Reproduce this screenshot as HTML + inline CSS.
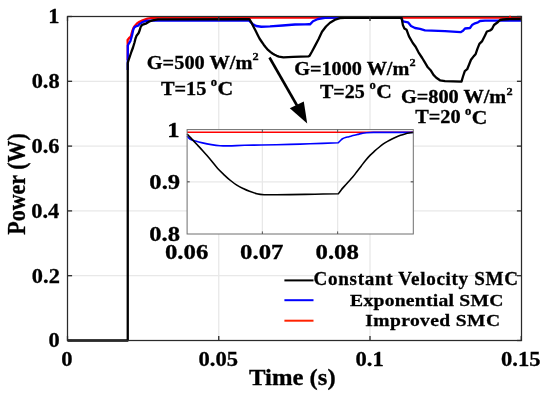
<!DOCTYPE html>
<html><head><meta charset="utf-8"><style>html,body{margin:0;padding:0;background:#fff;overflow:hidden}svg{display:block}</style></head>
<body><svg width="550" height="400" viewBox="0 0 550 400">
<rect width="550" height="400" fill="#fff"/>
<line x1="218.75" y1="16.5" x2="218.75" y2="340.5" stroke="#e8e8e8" stroke-width="1.3"/><line x1="370.00" y1="16.5" x2="370.00" y2="340.5" stroke="#e8e8e8" stroke-width="1.3"/><line x1="67.5" y1="275.70" x2="521.25" y2="275.70" stroke="#e8e8e8" stroke-width="1.3"/><line x1="67.5" y1="210.90" x2="521.25" y2="210.90" stroke="#e8e8e8" stroke-width="1.3"/><line x1="67.5" y1="146.10" x2="521.25" y2="146.10" stroke="#e8e8e8" stroke-width="1.3"/><line x1="67.5" y1="81.30" x2="521.25" y2="81.30" stroke="#e8e8e8" stroke-width="1.3"/><polyline points="127.75,60.00 127.75,46.00 127.60,40.00 129.00,38.20 130.80,36.50 132.20,31.50 133.50,28.00 134.80,26.00 137.00,23.50 139.50,21.80 142.70,20.30 147.60,18.70 152.60,17.90 160.00,17.60 521.25,17.60" fill="none" stroke="#ff0000" stroke-width="2.3" stroke-linejoin="round" stroke-linecap="butt"/><polyline points="127.75,70.00 127.75,63.00 127.80,45.50 129.00,43.30 130.50,40.80 132.00,35.50 133.30,29.50 134.50,27.20 135.80,26.40 138.00,25.70 139.70,23.90 142.70,22.00 146.00,20.90 150.00,20.60 249.00,20.60 252.50,23.90 256.25,26.00 261.25,26.75 270.00,26.40 282.50,25.50 295.00,24.50 305.00,24.30 309.00,24.10 310.00,24.40 313.00,21.25 318.00,19.00 325.00,17.90 340.00,17.70 401.00,17.80 403.00,21.40 408.00,22.30 411.00,26.00 415.00,28.00 420.00,28.90 425.00,30.40 445.00,31.10 460.60,32.20 463.00,30.80 465.00,28.50 470.00,28.00 472.00,25.10 475.00,23.30 478.00,22.30 480.00,21.00 485.00,20.60 521.00,20.60" fill="none" stroke="#0000ff" stroke-width="2.3" stroke-linejoin="round" stroke-linecap="butt"/><polyline points="67.50,340.50 127.75,340.50 127.75,63.00 128.30,61.00 130.00,56.00 131.50,51.50 133.00,47.50 134.50,42.50 135.50,38.50 136.50,35.80 138.50,33.30 139.70,30.30 140.70,26.80 142.00,25.00 144.20,24.10 146.50,23.30 149.30,21.50 152.60,20.30 158.00,19.30 249.40,19.20 251.00,21.80 253.00,25.70 255.50,30.60 257.70,35.00 259.50,38.50 261.50,41.50 263.70,44.70 265.90,47.50 268.00,49.90 270.30,51.90 272.50,53.50 274.60,54.80 276.80,55.80 279.00,56.60 283.40,57.30 293.20,56.90 308.40,56.40 309.50,55.80 312.00,51.50 315.00,45.90 318.50,39.25 322.00,31.75 326.00,26.50 330.00,22.75 335.00,19.75 340.00,18.10 345.00,17.90 401.60,17.90 402.90,25.10 404.40,28.50 406.60,29.80 409.00,36.40 412.80,43.00 415.60,46.70 418.50,52.30 422.20,58.00 425.00,62.70 427.80,67.30 430.60,70.20 433.50,74.90 436.30,77.70 440.00,80.30 445.00,81.10 461.50,81.60 463.00,76.50 464.80,71.10 467.20,69.20 469.10,64.50 471.00,59.80 473.80,56.10 475.60,54.20 477.50,48.60 479.40,43.90 482.20,41.10 485.00,35.50 486.90,31.50 490.00,30.50 492.00,29.00 494.00,25.00 496.00,23.50 498.00,22.00 500.00,20.00 503.00,19.50 510.00,19.00 521.00,19.00" fill="none" stroke="#000000" stroke-width="2.3" stroke-linejoin="round" stroke-linecap="butt"/><rect x="67.5" y="16.5" width="454.0" height="324.0" fill="none" stroke="#2a2a2a" stroke-width="1.25"/><line x1="67.50" y1="340.5" x2="67.50" y2="335.9" stroke="#2a2a2a" stroke-width="1.3"/><line x1="67.50" y1="16.5" x2="67.50" y2="21.1" stroke="#2a2a2a" stroke-width="1.3"/><line x1="218.75" y1="340.5" x2="218.75" y2="335.9" stroke="#2a2a2a" stroke-width="1.3"/><line x1="218.75" y1="16.5" x2="218.75" y2="21.1" stroke="#2a2a2a" stroke-width="1.3"/><line x1="370.00" y1="340.5" x2="370.00" y2="335.9" stroke="#2a2a2a" stroke-width="1.3"/><line x1="370.00" y1="16.5" x2="370.00" y2="21.1" stroke="#2a2a2a" stroke-width="1.3"/><line x1="521.25" y1="340.5" x2="521.25" y2="335.9" stroke="#2a2a2a" stroke-width="1.3"/><line x1="521.25" y1="16.5" x2="521.25" y2="21.1" stroke="#2a2a2a" stroke-width="1.3"/><line x1="67.5" y1="340.50" x2="72.1" y2="340.50" stroke="#2a2a2a" stroke-width="1.3"/><line x1="521.5" y1="340.50" x2="516.9" y2="340.50" stroke="#2a2a2a" stroke-width="1.3"/><line x1="67.5" y1="275.70" x2="72.1" y2="275.70" stroke="#2a2a2a" stroke-width="1.3"/><line x1="521.5" y1="275.70" x2="516.9" y2="275.70" stroke="#2a2a2a" stroke-width="1.3"/><line x1="67.5" y1="210.90" x2="72.1" y2="210.90" stroke="#2a2a2a" stroke-width="1.3"/><line x1="521.5" y1="210.90" x2="516.9" y2="210.90" stroke="#2a2a2a" stroke-width="1.3"/><line x1="67.5" y1="146.10" x2="72.1" y2="146.10" stroke="#2a2a2a" stroke-width="1.3"/><line x1="521.5" y1="146.10" x2="516.9" y2="146.10" stroke="#2a2a2a" stroke-width="1.3"/><line x1="67.5" y1="81.30" x2="72.1" y2="81.30" stroke="#2a2a2a" stroke-width="1.3"/><line x1="521.5" y1="81.30" x2="516.9" y2="81.30" stroke="#2a2a2a" stroke-width="1.3"/><line x1="67.5" y1="16.50" x2="72.1" y2="16.50" stroke="#2a2a2a" stroke-width="1.3"/><line x1="521.5" y1="16.50" x2="516.9" y2="16.50" stroke="#2a2a2a" stroke-width="1.3"/><path d="M508.6 17.8 L510 15.0 L511.4 17.8 Z" fill="#ff0000"/><rect x="187.1" y="129.6" width="226.20000000000002" height="104.4" fill="#fff"/><line x1="262.37" y1="129.6" x2="262.37" y2="234.0" stroke="#e8e8e8" stroke-width="1.3"/><line x1="337.64" y1="129.6" x2="337.64" y2="234.0" stroke="#e8e8e8" stroke-width="1.3"/><line x1="187.1" y1="181.80" x2="413.3" y2="181.80" stroke="#e8e8e8" stroke-width="1.3"/><polyline points="187.10,132.20 413.30,132.20" fill="none" stroke="#ff0000" stroke-width="1.5" stroke-linejoin="round" stroke-linecap="butt"/><path d="M187.10,136.00 C187.63,136.53 188.90,138.35 190.30,139.20 C191.70,140.05 193.47,140.48 195.50,141.10 C197.53,141.72 199.87,142.32 202.50,142.90 C205.13,143.48 208.38,144.13 211.30,144.60 C214.22,145.07 217.08,145.48 220.00,145.70 C222.92,145.92 224.72,145.97 228.80,145.90 C232.88,145.83 239.07,145.45 244.50,145.30 C249.93,145.15 253.82,145.15 261.40,145.00 C268.98,144.85 281.90,144.60 290.00,144.40 C298.10,144.20 301.95,144.08 310.00,143.80 C318.05,143.52 333.58,142.88 338.30,142.70 L338.30,142.70 C338.67,142.33 339.80,141.17 340.50,140.50 C341.20,139.83 341.67,139.20 342.50,138.70 C343.33,138.20 344.42,137.83 345.50,137.50 C346.58,137.17 347.75,137.02 349.00,136.70 C350.25,136.38 351.53,135.98 353.00,135.60 C354.47,135.22 356.30,134.77 357.80,134.40 C359.30,134.03 360.55,133.68 362.00,133.40 C363.45,133.12 364.58,132.87 366.50,132.70 C368.42,132.53 369.58,132.45 373.50,132.40 C377.42,132.35 383.37,132.40 390.00,132.40 C396.63,132.40 409.42,132.40 413.30,132.40" fill="none" stroke="#0000ff" stroke-width="1.6" stroke-linejoin="round"/><path d="M187.10,134.00 C187.67,134.60 189.38,136.42 190.50,137.60 C191.62,138.78 192.55,139.77 193.80,141.10 C195.05,142.43 196.55,144.03 198.00,145.60 C199.45,147.17 201.00,148.83 202.50,150.50 C204.00,152.17 205.52,153.88 207.00,155.60 C208.48,157.32 209.62,158.65 211.40,160.80 C213.18,162.95 215.58,166.17 217.70,168.50 C219.82,170.83 221.97,172.80 224.10,174.80 C226.23,176.80 228.38,178.78 230.50,180.50 C232.62,182.22 234.68,183.77 236.80,185.10 C238.92,186.43 241.08,187.47 243.20,188.50 C245.32,189.53 247.23,190.43 249.50,191.30 C251.77,192.17 254.37,193.13 256.80,193.70 C259.23,194.27 261.07,194.52 264.10,194.70 C267.13,194.88 270.68,194.82 275.00,194.80 C279.32,194.78 283.33,194.70 290.00,194.60 C296.67,194.50 306.95,194.33 315.00,194.20 C323.05,194.07 334.42,193.87 338.30,193.80 L338.30,193.80 C338.75,193.20 340.08,191.35 341.00,190.20 C341.92,189.05 342.63,188.23 343.80,186.90 C344.97,185.57 346.55,183.80 348.00,182.20 C349.45,180.60 351.00,179.08 352.50,177.30 C354.00,175.52 355.53,173.40 357.00,171.50 C358.47,169.60 359.88,167.73 361.30,165.90 C362.72,164.07 364.05,162.25 365.50,160.50 C366.95,158.75 368.50,156.95 370.00,155.40 C371.50,153.85 373.03,152.52 374.50,151.20 C375.97,149.88 377.38,148.67 378.80,147.50 C380.22,146.33 381.55,145.22 383.00,144.20 C384.45,143.18 386.00,142.27 387.50,141.40 C389.00,140.53 390.53,139.73 392.00,139.00 C393.47,138.27 394.88,137.62 396.30,137.00 C397.72,136.38 399.05,135.82 400.50,135.30 C401.95,134.78 403.58,134.28 405.00,133.90 C406.42,133.52 407.62,133.23 409.00,133.00 C410.38,132.77 412.58,132.58 413.30,132.50" fill="none" stroke="#000000" stroke-width="1.6" stroke-linejoin="round"/><rect x="187.1" y="129.6" width="226.20000000000002" height="104.4" fill="none" stroke="#6e6e6e" stroke-width="1"/><line x1="262.37" y1="234.0" x2="262.37" y2="231.4" stroke="#555" stroke-width="1"/><line x1="262.37" y1="129.6" x2="262.37" y2="132.2" stroke="#555" stroke-width="1"/><line x1="337.64" y1="234.0" x2="337.64" y2="231.4" stroke="#555" stroke-width="1"/><line x1="337.64" y1="129.6" x2="337.64" y2="132.2" stroke="#555" stroke-width="1"/><line x1="187.1" y1="181.80" x2="189.7" y2="181.80" stroke="#555" stroke-width="1.2"/><line x1="413.3" y1="181.80" x2="410.7" y2="181.80" stroke="#555" stroke-width="1.2"/><line x1="269.5" y1="57.5" x2="297" y2="105.5" stroke="#000" stroke-width="2.6"/><polygon points="307.2,123.5 289.8,108.3 303.8,101.5" fill="#000"/><line x1="284.4" y1="280.4" x2="313.5" y2="280.4" stroke="#000" stroke-width="2"/><line x1="284.4" y1="300.2" x2="313.5" y2="300.2" stroke="#0000ff" stroke-width="2"/><line x1="284.4" y1="320.7" x2="313.5" y2="320.7" stroke="#ff2200" stroke-width="2"/>
<g font-family="Liberation Serif, 'Times New Roman', serif" font-weight="bold" stroke="#000" stroke-width="0.3"><text transform="translate(48.55 347.45) scale(1.0874 1)" font-size="20.60" fill="#000">0</text><text transform="translate(31.86 282.65) scale(1.0874 1)" font-size="20.60" fill="#000">0.2</text><text transform="translate(31.32 217.85) scale(1.0874 1)" font-size="20.60" fill="#000">0.4</text><text transform="translate(31.56 153.05) scale(1.0874 1)" font-size="20.60" fill="#000">0.6</text><text transform="translate(31.64 88.25) scale(1.0874 1)" font-size="20.60" fill="#000">0.8</text><text transform="translate(48.16 23.45) scale(1.0874 1)" font-size="20.60" fill="#000">1</text><text transform="translate(61.35 365.90) scale(1.1078 1)" font-size="20.40" fill="#000">0</text><text transform="translate(198.46 365.90) scale(1.1078 1)" font-size="20.40" fill="#000">0.05</text><text transform="translate(355.53 365.90) scale(1.1078 1)" font-size="20.40" fill="#000">0.1</text><text transform="translate(500.96 365.90) scale(1.1078 1)" font-size="20.40" fill="#000">0.15</text><text transform="translate(149.27 241.04) scale(1.1604 1)" font-size="21.20" fill="#000">0.8</text><text transform="translate(149.34 188.84) scale(1.1604 1)" font-size="21.20" fill="#000">0.9</text><text transform="translate(167.27 136.64) scale(1.1604 1)" font-size="21.20" fill="#000">1</text><text transform="translate(164.89 258.80) scale(1.1698 1)" font-size="21.20" fill="#000">0.06</text><text transform="translate(240.10 258.80) scale(1.1698 1)" font-size="21.20" fill="#000">0.07</text><text transform="translate(315.48 258.80) scale(1.1698 1)" font-size="21.20" fill="#000">0.08</text><text transform="translate(249.01 384.60) scale(1.0378 1)" font-size="23.80" fill="#000">Time (s)</text><text transform="translate(146.76 68.80) scale(1.1317 1)" font-size="18.00" fill="#000">G=500 W/m</text><text transform="translate(252.48 60.20) scale(1.0885 1)" font-size="11.30" fill="#000">2</text><text transform="translate(160.93 94.80) scale(1.1120 1)" font-size="18.30" fill="#000">T=15</text><text transform="translate(210.72 86.40) scale(1.0862 1)" font-size="11.60" fill="#000">o</text><text transform="translate(217.54 95.00) scale(1.1720 1)" font-size="18.60" fill="#000">C</text><text transform="translate(294.26 74.50) scale(1.1115 1)" font-size="18.20" fill="#000">G=1000 W/m</text><text transform="translate(409.58 65.60) scale(1.0885 1)" font-size="11.30" fill="#000">2</text><text transform="translate(319.94 97.50) scale(1.1005 1)" font-size="18.20" fill="#000">T=25</text><text transform="translate(369.52 88.90) scale(1.0862 1)" font-size="11.60" fill="#000">o</text><text transform="translate(376.35 97.70) scale(1.1613 1)" font-size="18.60" fill="#000">C</text><text transform="translate(400.91 103.20) scale(1.1278 1)" font-size="18.00" fill="#000">G=800 W/m</text><text transform="translate(506.38 94.50) scale(1.0885 1)" font-size="11.30" fill="#000">2</text><text transform="translate(415.28 123.10) scale(1.1215 1)" font-size="18.10" fill="#000">T=20</text><text transform="translate(465.02 115.20) scale(1.0862 1)" font-size="11.60" fill="#000">o</text><text transform="translate(471.85 123.60) scale(1.1613 1)" font-size="18.60" fill="#000">C</text><text transform="translate(313.57 285.30) scale(0.9800 1)" font-size="19.50" letter-spacing="0.688" fill="#000">Constant Velocity SMC</text><text transform="translate(350.06 305.80) scale(1.1100 1)" font-size="17.70" letter-spacing="0.220" fill="#000">Exponential SMC</text><text transform="translate(365.34 326.30) scale(1.1100 1)" font-size="17.60" letter-spacing="0.358" fill="#000">Improved SMC</text></g>
<text transform="translate(25.2 234.68) rotate(-90) scale(0.9053 1)" font-size="24.3" font-family="Liberation Serif, 'Times New Roman', serif" font-weight="bold" stroke="#000" stroke-width="0.3">Power (W)</text>
</svg></body></html>
